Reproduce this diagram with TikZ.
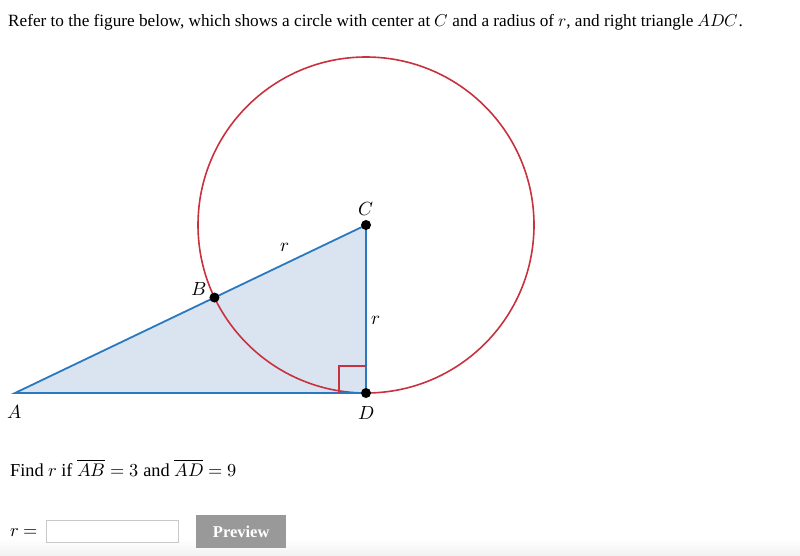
\documentclass[tikz,border=0pt]{standalone}
\usepackage{unicode-math}
\setmainfont{Liberation Serif}
\setmathfont{Latin Modern Math}
\usetikzlibrary{positioning, calc}
\definecolor{circred}{HTML}{C8313E}
\definecolor{lineblue}{HTML}{2A78C0}
\definecolor{fillblue}{HTML}{D9E4F0}
\definecolor{btngray}{HTML}{999999}
\definecolor{boxgray}{HTML}{C9C9C9}

\begin{document}
\begin{tikzpicture}[
  x=1pt, y=-1pt,
  dot/.style={circle, fill=black, inner sep=0pt, minimum size=10pt},
  lbl/.style={font=\fontsize{19}{21}\selectfont, inner sep=1pt},
  txt/.style={font=\fontsize{17.2}{20}\selectfont, anchor=base west, inner sep=0pt},
  side/.style={draw=lineblue, line width=1.8pt},
  ring/.style={draw=circred, line width=1.6pt}
]
  \useasboundingbox (0,0) rectangle (800,555);
  \shade[top color=white, bottom color=black!5] (0,538) rectangle (800,555);

  % question
  \node[txt] (question) at (8,26)
    {Refer to the figure below, which shows a circle with center at $C$ and a radius of $r$, and right triangle $ADC$.};

  % points
  \coordinate (A) at (15,393);
  \coordinate (C) at (366,225);
  \coordinate (D) at (366,393);
  \coordinate (B) at ($(C)!168pt!(A)$);

  \fill[fillblue] (A) -- (C) -- (D) -- cycle;
  \draw[ring] (C) circle[radius=168pt];
  \draw[side] (A) -- (C) -- (D) -- cycle;
  \draw[draw=circred, line width=1.4pt] ($(D)+(-27,0)$) -- ($(D)+(-27,-27)$) -- ($(D)+(0,-27)$);

  \node[dot] (dotB) at (B) {};
  \node[dot] (dotC) at (C) {};
  \node[dot] (dotD) at (D) {};

  \node[lbl, above=3pt of dotC] (labC) {$C$};
  \node[lbl, below=7pt of dotD] (labD) {$D$};
  \node[lbl, above left=-3pt and 3pt of dotB] (labB) {$B$};
  \node[lbl, below=11pt of A] (labA) {$A$};
  \node[lbl] (rCB) at (285,247) {$r$};
  \node[lbl] (rCD) at (376,320) {$r$};

  % answer part
  \node[txt, font=\fontsize{18.3}{20}\selectfont] (find) at (10,476)
    {Find $r$ if $\overline{AB}=3$ and $\overline{AD}=9$};
  \node[txt, font=\fontsize{18.3}{20}\selectfont] (req) at (10,536) {$r=$};
  \node[draw=boxgray, fill=white, line width=0.8pt, minimum width=132pt, minimum height=22pt,
    anchor=north west, inner sep=0pt] (answer) at (46,520) {};
  \node[fill=btngray, text=white, minimum width=90pt, minimum height=33pt, anchor=north west,
    inner sep=0pt, font=\fontsize{16.5}{18}\selectfont\bfseries] (preview) at (196,515) {Preview};
\end{tikzpicture}
\end{document}
